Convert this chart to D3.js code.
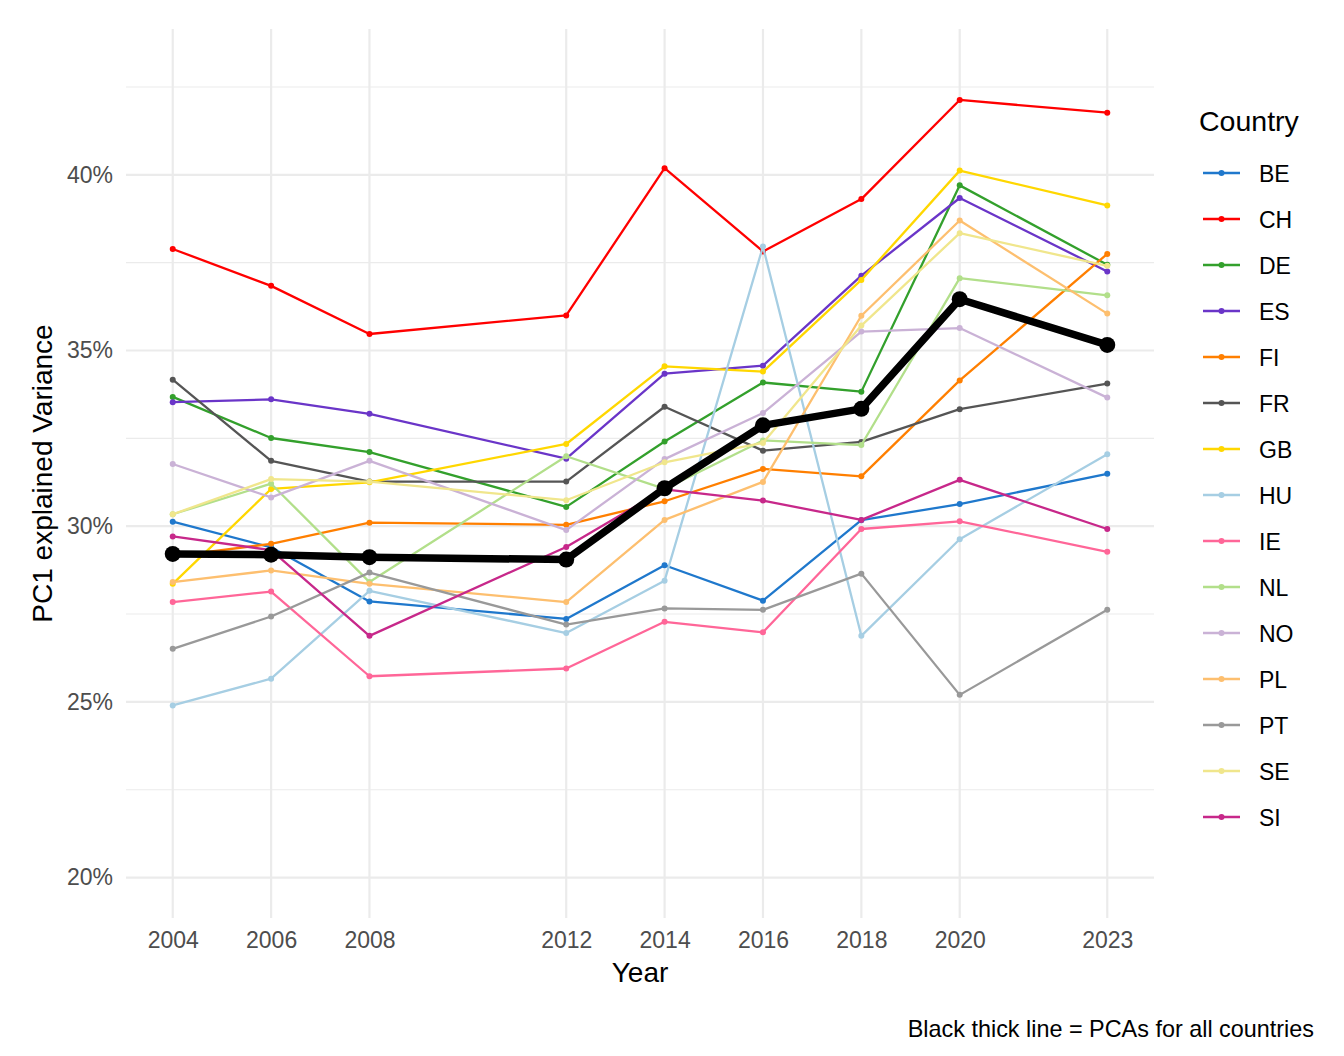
<!DOCTYPE html>
<html>
<head>
<meta charset="utf-8">
<script src="https://cdn.jsdelivr.net/npm/d3@7"></script>
<style>
  body { margin: 0; background: #fff; }
  svg { display: block; font-family: "Liberation Sans", Arial, sans-serif; }
</style>
</head>
<body>
<svg></svg>
<script>
const years = [2004, 2006, 2008, 2012, 2014, 2016, 2018, 2020, 2023];
const yTicks = [20, 25, 30, 35, 40];
const yMinor = [22.5, 27.5, 32.5, 37.5, 42.5];

const countries = ['BE', 'CH', 'DE', 'ES', 'FI', 'FR', 'GB', 'HU', 'IE', 'NL', 'NO', 'PL', 'PT', 'SE', 'SI'];
const colors = ['#1f78cc', '#ff0000', '#33a02c', '#6a35c8', '#ff7f00', '#555555', '#ffd700', '#a6cee3',
                '#ff6698', '#b2df8a', '#cab2d6', '#fdbf6f', '#999999', '#f0e68c', '#c7288a'];

// PC1 explained variance, in percent
const BE = [30.13, 29.40, 27.86, 27.36, 28.89, 27.88, 30.17, 30.63, 31.49];
const CH = [37.89, 36.84, 35.47, 36.00, 40.19, 37.82, 39.31, 42.13, 41.77];
const DE = [33.68, 32.51, 32.11, 30.55, 32.41, 34.09, 33.83, 39.70, 37.44];
const ES = [33.53, 33.61, 33.20, 31.92, 34.34, 34.57, 37.13, 39.34, 37.25];
const FI = [29.14, 29.50, 30.10, 30.04, 30.71, 31.63, 31.42, 34.15, 37.75];
const FR = [34.17, 31.86, 31.27, 31.27, 33.40, 32.15, 32.40, 33.33, 34.06];
const GB = [28.36, 31.06, 31.25, 32.34, 34.55, 34.40, 37.01, 40.12, 39.13];
const HU = [24.90, 25.66, 28.16, 26.96, 28.45, 37.96, 26.88, 29.63, 32.05];
const IE = [27.84, 28.14, 25.73, 25.95, 27.28, 26.98, 29.92, 30.14, 29.27];
const NL = [30.34, 31.21, 28.41, 31.99, 31.06, 32.44, 32.31, 37.06, 36.57];
const NO = [31.77, 30.82, 31.86, 29.89, 31.91, 33.22, 35.54, 35.64, 33.66];
const PL = [28.41, 28.74, 28.36, 27.84, 30.18, 31.26, 35.99, 38.70, 36.05];
const PT = [26.51, 27.43, 28.68, 27.20, 27.66, 27.62, 28.65, 25.20, 27.62];
const SE = [30.34, 31.34, 31.27, 30.74, 31.82, 32.37, 35.71, 38.34, 37.41];
const SI = [29.71, 29.32, 26.88, 29.41, 31.05, 30.73, 30.18, 31.32, 29.92];
const ALL = [29.21, 29.19, 29.12, 29.05, 31.08, 32.87, 33.34, 36.46, 35.16];

const seriesValues = [BE, CH, DE, ES, FI, FR, GB, HU, IE, NL, NO, PL, PT, SE, SI];

const width = 1344;
const height = 1056;
const panel = {left: 126, right: 1154, top: 29, bottom: 918};

const svg = d3.select('svg').attr('width', width).attr('height', height);

// ggplot-style 5% expansion
const xPad = (d3.max(years) - d3.min(years)) * 0.05;
const yLim = [20, 43];
const yPad = (yLim[1] - yLim[0]) * 0.05;

const x = d3.scaleLinear()
  .domain([d3.min(years) - xPad, d3.max(years) + xPad])
  .range([panel.left, panel.right]);
const y = d3.scaleLinear()
  .domain([yLim[0] - yPad, yLim[1] + yPad])
  .range([panel.bottom, panel.top]);

// grid
const grid = svg.append('g');
grid.selectAll('.ymin').data(yMinor).enter().append('line')
  .attr('x1', panel.left).attr('x2', panel.right)
  .attr('y1', d => y(d)).attr('y2', d => y(d))
  .attr('stroke', '#ebebeb').attr('stroke-width', 1.1);
grid.selectAll('.ymaj').data(yTicks).enter().append('line')
  .attr('x1', panel.left).attr('x2', panel.right)
  .attr('y1', d => y(d)).attr('y2', d => y(d))
  .attr('stroke', '#ebebeb').attr('stroke-width', 2.2);
grid.selectAll('.xmaj').data(years).enter().append('line')
  .attr('x1', d => x(d)).attr('x2', d => x(d))
  .attr('y1', panel.top).attr('y2', panel.bottom)
  .attr('stroke', '#ebebeb').attr('stroke-width', 2.2);

// axes (ticks hidden, labels only)
const xAxis = svg.append('g')
  .attr('transform', 'translate(0,' + panel.bottom + ')')
  .call(d3.axisBottom(x).tickValues(years).tickFormat(d3.format('d')).tickSize(0).tickPadding(14));
const yAxis = svg.append('g')
  .attr('transform', 'translate(' + panel.left + ',0)')
  .call(d3.axisLeft(y).tickValues(yTicks).tickFormat(d => d + '%').tickSize(0).tickPadding(13));
[xAxis, yAxis].forEach(a => {
  a.select('.domain').remove();
  a.selectAll('text')
    .attr('fill', '#4d4d4d')
    .style('font-size', '23px')
    .style('font-family', '"Liberation Sans", Arial, sans-serif');
});

// country lines
const line = d3.line().x((d, i) => x(years[i])).y(d => y(d));
const marks = svg.append('g');
seriesValues.forEach((vals, k) => {
  marks.append('path')
    .datum(vals)
    .attr('d', line)
    .attr('fill', 'none')
    .attr('stroke', colors[k])
    .attr('stroke-width', 2.3)
    .attr('stroke-linejoin', 'round');
  marks.selectAll('.pt' + k).data(vals).enter().append('circle')
    .attr('cx', (d, i) => x(years[i]))
    .attr('cy', d => y(d))
    .attr('r', 3)
    .attr('fill', colors[k]);
});

// all countries, thick black
marks.append('path')
  .datum(ALL)
  .attr('d', line)
  .attr('fill', 'none')
  .attr('stroke', '#000')
  .attr('stroke-width', 7.5)
  .attr('stroke-linejoin', 'round');
marks.selectAll('.ptall').data(ALL).enter().append('circle')
  .attr('cx', (d, i) => x(years[i]))
  .attr('cy', d => y(d))
  .attr('r', 8)
  .attr('fill', '#000');

// axis titles
svg.append('text')
  .attr('x', (panel.left + panel.right) / 2).attr('y', 982)
  .attr('text-anchor', 'middle')
  .style('font-size', '28px')
  .text('Year');
svg.append('text')
  .attr('transform', 'translate(52,' + ((panel.top + panel.bottom) / 2) + ') rotate(-90)')
  .attr('text-anchor', 'middle')
  .style('font-size', '28px')
  .text('PC1 explained Variance');

// legend
const legend = svg.append('g').attr('transform', 'translate(1199,0)');
legend.append('text')
  .attr('x', 0).attr('y', 131)
  .style('font-size', '28.5px')
  .text('Country');
const rows = legend.selectAll('.row').data(countries).enter().append('g')
  .attr('transform', (d, i) => 'translate(0,' + (173 + i * 46) + ')');
rows.append('line')
  .attr('x1', 4).attr('x2', 41).attr('y1', 0).attr('y2', 0)
  .attr('stroke', (d, i) => colors[i]).attr('stroke-width', 2.3);
rows.append('circle')
  .attr('cx', 22.5).attr('cy', 0).attr('r', 3)
  .attr('fill', (d, i) => colors[i]);
rows.append('text')
  .attr('x', 60).attr('y', 8.5)
  .style('font-size', '23px')
  .text(d => d);

// caption
svg.append('text')
  .attr('x', 1314).attr('y', 1037)
  .attr('text-anchor', 'end')
  .style('font-size', '23.4px')
  .text('Black thick line = PCAs for all countries');
</script>
</body>
</html>
